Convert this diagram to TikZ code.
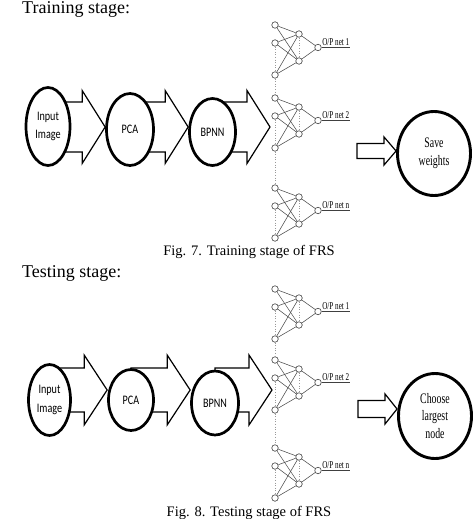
\documentclass[tikz,border=0pt]{standalone}
\usepackage{fontspec}
\setmainfont{Liberation Serif}
\newfontfamily\stagesans[FakeStretch=0.78]{Carlito}
\newfontfamily\stageserif[FakeStretch=0.68]{Liberation Serif}
\usetikzlibrary{calc,shapes.geometric,backgrounds}

% hollow block arrow: from, tip, centre y, head length, head half width, shaft half width
\newcommand{\fatarrow}[6]{%
  \draw[fat arrow] let \p1=(#1), \p2=(#2), \p3=(0,#3) in
    (\x1,\y3+#6pt) -- (\x2-#4pt,\y3+#6pt) -- (\x2-#4pt,\y3+#5pt)
    -- (\x2,\y3) -- (\x2-#4pt,\y3-#5pt) -- (\x2-#4pt,\y3-#6pt)
    -- (\x1,\y3-#6pt) -- cycle;}

% one small network: name, top y, label
\newcommand{\netblock}[3]{%
  \node[unit] (#1i1) at (275,#2) {};
  \node[unit] (#1i2) at (275,#2+18) {};
  \node[unit] (#1i3) at (275,#2+50) {};
  \node[unit] (#1h1) at (299,#2+9) {};
  \node[unit] (#1h2) at (299,#2+36) {};
  \node[unit] (#1o) at (318,#2+22.5) {};
  \coordinate (#1end) at (350,#2+22.5);
  \foreach \i in {1,2,3}
    \foreach \h in {1,2}
      \draw[link] (#1i\i) -- (#1h\h);
  \draw[link] (#1h1) -- (#1o) (#1h2) -- (#1o);
  \draw[gap] (#1i2) -- (#1i3) (#1h1) -- (#1h2);
  \draw[outline] (#1o) -- (#1end) node[midway,above,inner sep=1pt,font=\stageserif\fontsize{10.5}{11}\selectfont] {#3};
}

\begin{document}
\begin{tikzpicture}[x=1pt,y=-1pt,
  stagenode/.style={ellipse,draw,line width=2.7pt,fill=white,inner sep=0pt,
    align=center,font=\stagesans\fontsize{13}{18.5}\selectfont},
  endnode/.style={ellipse,draw,line width=2.9pt,fill=white,inner sep=0pt,
    align=center,font=\stageserif\fontsize{14.5}{17.5}\selectfont},
  fat arrow/.style={draw,line width=1.2pt,fill=white,line join=miter},
  unit/.style={circle,draw=black!70,line width=0.65pt,fill=white,inner sep=0pt,minimum size=6.5pt},
  link/.style={draw=black!70,line width=0.55pt},
  gap/.style={draw=black!40,line width=0.6pt,dotted},
  outline/.style={draw=black!75,line width=0.9pt},
  title/.style={anchor=base west,inner sep=0pt,font=\fontsize{18}{20}\selectfont},
  caption/.style={anchor=base,inner sep=0pt,font=\fontsize{14.5}{16}\selectfont}]

  \useasboundingbox (0,0) rectangle (474,519);

  % training stage
  \node[title] (titleA) at (22,14) {Training stage:};
  \node[stagenode,minimum width=44pt,minimum height=78pt] (inA) at (48,126.5) {Input\\Image};
  \node[stagenode,minimum width=47pt,minimum height=72pt] (pcaA) at (130,129.5) {PCA};
  \node[stagenode,minimum width=46pt,minimum height=67pt] (bpnnA) at (212.5,132) {BPNN};
  \coordinate (tipA) at (270,127);

  \begin{scope}[on background layer]
    \fatarrow{inA.center}{pcaA.west}{127}{23}{36.5}{25}
    \fatarrow{pcaA.center}{bpnnA.west}{127}{23}{36.5}{25}
    \fatarrow{bpnnA.center}{tipA}{127}{23}{36.5}{25}
  \end{scope}

  \netblock{A1}{25}{O/P net 1}
  \netblock{A2}{98}{O/P net 2}
  \netblock{A3}{188}{O/P net n}
  \draw[gap] (A1i3) -- (A2i1) (A2i3) -- (A3i1);

  \node[endnode,minimum width=73pt,minimum height=84pt] (saveA) at (434,153.5) {Save\\weights};
  \coordinate (feedA) at (357,151);
  \fatarrow{feedA}{saveA.west}{151}{12}{14}{7.5}

  \node[caption] (capA) at (249,255) {Fig. 7. Training stage of FRS};

  % testing stage
  \node[title] (titleB) at (22,277) {Testing stage:};
  \node[stagenode,minimum width=42pt,minimum height=71pt] (inB) at (49.5,400) {Input\\Image};
  \node[stagenode,minimum width=45pt,minimum height=61pt] (pcaB) at (131,400) {PCA};
  \node[stagenode,minimum width=47pt,minimum height=64pt] (bpnnB) at (215,403) {BPNN};
  \coordinate (tipB) at (272,390);

  \begin{scope}[on background layer]
    \fatarrow{inB.center}{pcaB.west}{390}{23}{35}{22}
    \fatarrow{pcaB.center}{bpnnB.west}{390}{23}{35}{22}
    \fatarrow{bpnnB.center}{tipB}{390}{23}{35}{22}
  \end{scope}

  \netblock{B1}{289}{O/P net 1}
  \netblock{B2}{360}{O/P net 2}
  \netblock{B3}{448}{O/P net n}
  \draw[gap] (B1i3) -- (B2i1) (B2i3) -- (B3i1);

  \node[endnode,minimum width=73pt,minimum height=85pt] (chooseB) at (435,416) {Choose\\largest\\node};
  \coordinate (feedB) at (358,409);
  \fatarrow{feedB}{chooseB.west}{409}{12}{15}{8.5}

  \node[caption] (capB) at (249,516) {Fig. 8. Testing stage of FRS};

\end{tikzpicture}
\end{document}
